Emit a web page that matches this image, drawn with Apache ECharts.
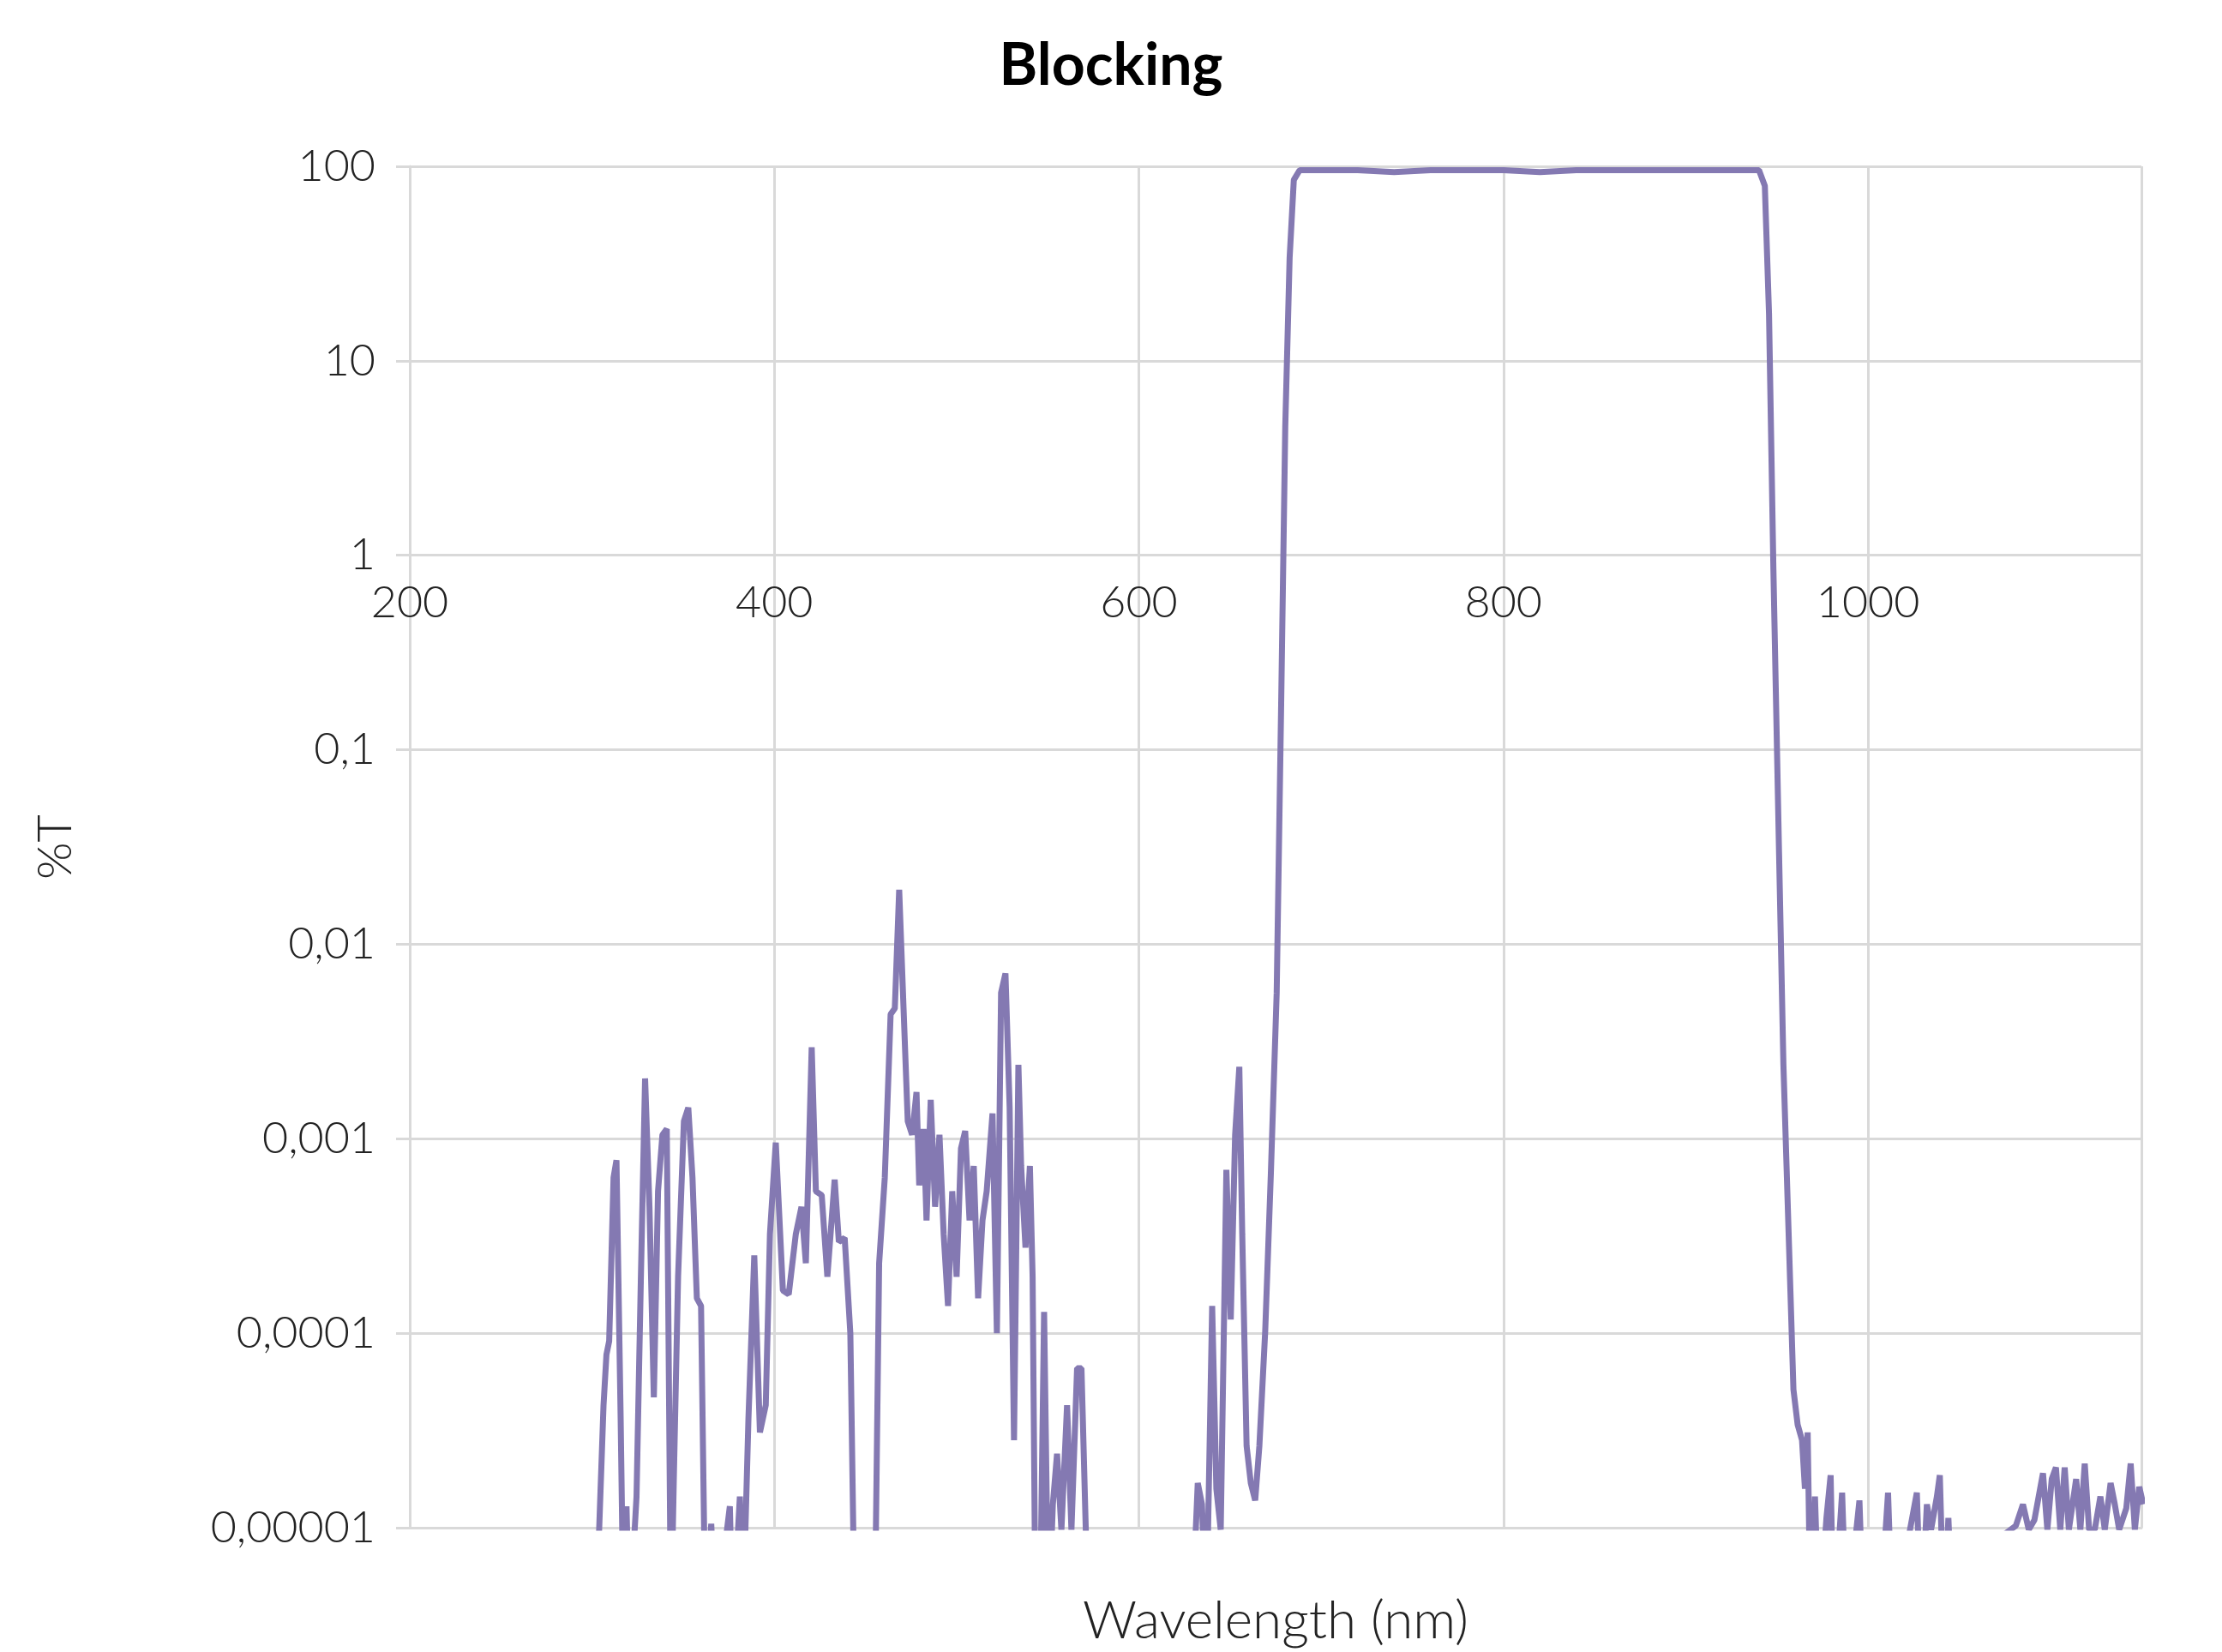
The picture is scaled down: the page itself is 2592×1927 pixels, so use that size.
<!DOCTYPE html>
<html>
<head>
<meta charset="utf-8" />
<title>Blocking</title>
<script src="https://cdn.jsdelivr.net/npm/echarts@6/dist/echarts.min.js"></script>
<style>
    html, body { margin: 0; padding: 0; background: #fff; }
    #main { width: 2592px; height: 1927px; }
</style>
</head>
<body>
<div id="main"></div>
<script>
// wavelength (nm) and log10 of %T (-5.5 = below the axis)
var wavelength = [
    300, 303.9, 306.3, 307.9, 309.4, 311.8, 313.4, 315.7, 317.3, 318.9, 320.5,
    324.4, 326.8, 329.1, 331.5, 333.9, 336.2, 338.6, 341, 343.3, 344.9, 347.2,
    350.4, 352.8, 355.1, 357.5, 359.8, 362.2, 365.4, 367.7, 375.6, 377.2, 381.1,
    382.7, 385.8, 389, 392.1, 395.3, 397.6, 400.8, 404.7, 407.9, 411.8, 414.9,
    417.3, 420.5, 422.8, 426, 429.1, 433.1, 435.4, 438.6, 441.7, 444.1,
    455.1, 457.5, 460.6, 463.8, 466.1, 468.5, 470.9, 473.2, 475.6, 478, 479.5,
    481.9, 483.5, 485.8, 488.2, 490.6, 492.9, 495.3, 497.6, 500, 502.4, 504.7,
    507.1, 509.4, 511.8, 514.2, 516.5, 519.7, 522.1, 524.4, 526.8, 529.1, 531.5,
    533.9, 535.4, 537.8, 540.2, 541.7, 543.3, 545.7, 548, 550.4, 552.8, 555.1,
    557.5, 560.6, 563, 566.1, 568.5, 570.9, 572,
    629, 629.9, 632.3, 634.6, 637, 640.2, 642.5, 644.9, 648, 650.4, 652.8,
    655.1, 656.7, 659.1, 661.4, 663.8, 666.1, 669.3, 672.4, 675.6, 678, 680.3,
    682.7, 685, 688.2, 700, 720, 740, 760, 780, 800, 820, 840, 860, 880, 900,
    920, 940.2, 943.4, 945.7, 948.1, 951.2, 953.6, 956.7, 959.1, 961.4, 963.8,
    965.4, 966.9, 968.5, 970.9, 973.2, 977.2, 979.5, 981.1, 985.8, 988.2, 995.3,
    997.6, 1000.8, 1006.3, 1011, 1013.4, 1026.8, 1029.1, 1032.3, 1034.6, 1037.8,
    1039.4, 1041.7, 1044.1, 1046.5, 1074, 1081.1, 1085, 1088.2, 1091.3, 1096,
    1098.4, 1100.8, 1103.1, 1105.5, 1107.9, 1110.2, 1114.2, 1116.5, 1118.9,
    1121.3, 1124.4, 1127.5, 1129.9, 1133.1, 1135.4, 1137.8, 1141.7, 1144.1,
    1146.4, 1148.8, 1151
];
var logT = [
    -5.5, -5.01, -4.37, -4.11, -4.04, -3.2, -3.11, -4.44, -5.5, -4.89, -5.5,
    -4.84, -3.71, -2.69, -3.35, -4.33, -3.27, -2.98, -2.95, -5.5, -4.73, -3.71,
    -2.91, -2.84, -3.2, -3.82, -3.86, -5.5, -4.98, -5.5, -4.89, -5.5, -4.84,
    -5.5, -4.44, -3.6, -4.51, -4.37, -3.49, -3.02, -3.78, -3.8, -3.49, -3.35,
    -3.64, -2.53, -3.27, -3.29, -3.71, -3.21, -3.53, -3.51, -4.0, -5.5,
    -5.5, -3.64, -3.2, -2.36, -2.33, -1.72, -2.33, -2.91, -2.98, -2.76, -3.24,
    -2.95, -3.42, -2.8, -3.35, -2.98, -3.49, -3.86, -3.27, -3.71, -3.05, -2.96,
    -3.42, -3.14, -3.82, -3.42, -3.27, -2.87, -4.0, -2.25, -2.15, -2.84, -4.55,
    -2.62, -3.14, -3.56, -3.14, -3.71, -5.5, -5.5, -3.89, -5.5, -4.88, -4.62,
    -5.01, -4.37, -5.01, -4.18, -4.18, -5.02, -5.5,
    -5.5, -5.5, -4.77, -4.88, -5.5, -3.86, -4.8, -5.01, -3.16, -3.93, -2.98,
    -2.63, -3.49, -4.58, -4.77, -4.86, -4.58, -3.99, -3.18, -2.25, -0.8, 0.66,
    1.53, 1.93, 1.98, 1.98, 1.98, 1.97, 1.98, 1.98, 1.98, 1.97, 1.98, 1.98, 1.98, 1.98,
    1.98, 1.98, 1.9, 1.24, -0.07, -1.53, -2.62, -3.56, -4.29, -4.47, -4.55,
    -4.8, -4.51, -5.5, -4.84, -5.5, -4.95, -4.73, -5.5, -4.82, -5.5, -4.86,
    -5.5, -5.02, -5.5, -4.82, -5.5, -4.82, -5.5, -4.88, -5.01, -4.84, -4.73,
    -5.5, -4.95, -5.5, -5.04, -4.99, -4.88, -5.01, -4.96, -4.72, -5.01, -4.75,
    -4.69, -5.01, -4.69, -5.01, -4.75, -5.01, -4.67, -5.01, -5.01, -4.84,
    -5.01, -4.77, -4.88, -5.01, -4.9, -4.67, -5.01, -4.79, -4.88
];
var xTicks = [200, 400, 600, 800, 1000];

var points = [];
for (var i = 0; i < wavelength.length; i++) {
    points.push([wavelength[i], Math.pow(10, logT[i])]);
}

function yLabel(v) {
    var e = Math.round(Math.log(v) / Math.LN10);
    if (e >= 0) return String(Math.pow(10, e));
    var s = '0,';
    for (var k = 1; k < -e; k++) s += '0';
    return s + '1';
}

var font = 'Lato';
var chart = echarts.init(document.getElementById('main'));
chart.setOption({
    animation: false,
    title: {
        text: 'Blocking',
        left: 'center',
        top: 38,
        textStyle: { fontFamily: font, fontWeight: 'bold', fontSize: 68, color: '#000' }
    },
    grid: { left: 478, right: 94, top: 194, bottom: 126 },
    xAxis: {
        type: 'value',
        min: 200,
        max: 1150,
        interval: 200,
        name: 'Wavelength (nm)',
        nameLocation: 'middle',
        nameGap: 78,
        nameTextStyle: { fontFamily: font, fontWeight: 300, fontSize: 62, color: '#222' },
        axisLine: { show: true, lineStyle: { color: '#d9d9d9', width: 3 } },
        axisTick: { show: false },
        axisLabel: {
            margin: -1105,
            showMaxLabel: false,
            fontFamily: font, fontWeight: 300, fontSize: 52, color: '#222',
            formatter: function (v) { return xTicks.indexOf(v) >= 0 ? String(v) : ''; }
        },
        splitLine: { show: true, lineStyle: { color: '#d9d9d9', width: 3 } }
    },
    yAxis: {
        type: 'log',
        logBase: 10,
        min: 0.00001,
        max: 100,
        name: '%T',
        nameLocation: 'middle',
        nameGap: 385,
        nameTextStyle: { fontFamily: font, fontWeight: 300, fontSize: 56, color: '#222' },
        axisLine: { show: true, lineStyle: { color: '#d9d9d9', width: 3 } },
        axisTick: { show: true, length: 16, lineStyle: { color: '#d9d9d9', width: 3 } },
        axisLabel: {
            margin: 40,
            fontFamily: font, fontWeight: 300, fontSize: 52, color: '#222',
            formatter: yLabel
        },
        splitLine: { show: true, lineStyle: { color: '#d9d9d9', width: 3 } }
    },
    series: [{
        type: 'line',
        data: points,
        showSymbol: false,
        clip: true,
        lineStyle: { color: '#8479b2', width: 7 }
    }]
});
</script>
</body>
</html>
